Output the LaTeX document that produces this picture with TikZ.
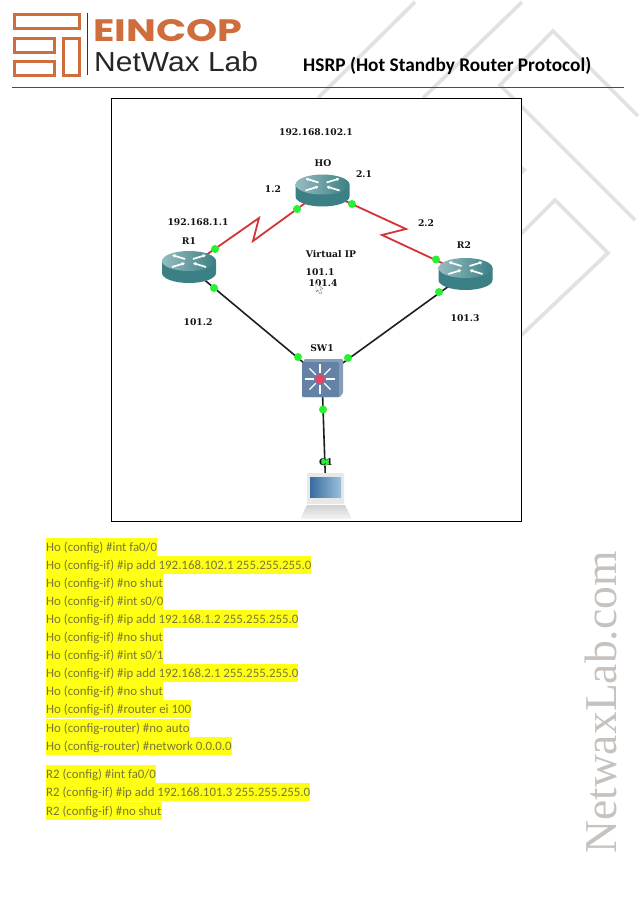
\documentclass[tikz,border=0pt]{standalone}
\usepackage{fontspec}
\usetikzlibrary{arrows.meta}
\newfontfamily\calfont{Carlito}
\newfontfamily\logofont{Poppins}
\newfontfamily\netfont{Liberation Sans}
\newfontfamily\labfont{DejaVu Serif}
\newfontfamily\wmfont{Liberation Serif}
\definecolor{logoorange}{RGB}{207,110,60}
\definecolor{decogrey}{RGB}{226,226,226}
\definecolor{teal1}{RGB}{58,128,132}
\definecolor{teal2}{RGB}{150,188,192}
\definecolor{serialred}{RGB}{215,50,55}
\definecolor{portgreen}{RGB}{40,240,50}
\definecolor{swblue}{RGB}{100,130,165}
\definecolor{swblue2}{RGB}{135,158,185}
\definecolor{swred}{RGB}{225,70,100}
\definecolor{scrdark}{RGB}{55,108,160}
\definecolor{scrlight}{RGB}{155,192,218}
\definecolor{listtext}{RGB}{122,120,55}
\definecolor{hl}{RGB}{255,255,20}
\definecolor{wmgrey}{RGB}{200,194,190}
\tikzset{
  deco/.style={draw=decogrey,line width=3.8pt,line join=miter},
  logobar/.style={draw=logoorange,line width=3pt},
  lab/.style={font=\labfont\bfseries\fontsize{9.2}{10}\selectfont,text=black!92,inner sep=0pt},
  cmd/.style={font=\calfont\fontsize{12.85}{14}\selectfont,text=listtext,fill=hl,anchor=west,
    inner xsep=0pt,inner ysep=0pt,text height=13.5pt,text depth=4.5pt},
  devbox/.style={inner sep=0pt,minimum width=#1},
  portdot/.style={circle,fill=portgreen,inner sep=0pt,minimum size=8pt},
  seriallink/.style={draw=serialred,line width=1.8pt},
  lanlink/.style={draw=black!88,line width=1.6pt},
  router/.pic={
    \fill[teal1] (-27,-6) -- (-27,6) arc (180:0:27 and 10) -- (27,-6) -- cycle;
    \shade[left color=teal2,right color=teal1] (0,-6) ellipse (27 and 10);
    \foreach \sx in {-1,1}{
      \draw[white,line width=1.7pt,-{Latex[length=3pt,width=4pt]}] (\sx*4,-8) -- (\sx*17,-12);
      \draw[white,line width=1.7pt,{Latex[length=3pt,width=4pt]}-] (\sx*4,-4) -- (\sx*17,0);
    }
  },
  swpic/.pic={
    \fill[swblue2,rounded corners=1pt] (-18,-19) -- (21,-19) -- (21,15) -- (18,19) -- (-18,19) -- cycle;
    \fill[swblue,rounded corners=1pt] (-20,-16) -- (17,-16) -- (17,19) -- (-20,19) -- cycle;
    \begin{scope}[shift={(-2,1)}]
      \foreach \a in {0,45,...,315}
        \draw[white,line width=1.3pt] (\a:6) -- (\a:15);
      \fill[swred] (0,0) circle (5);
    \end{scope}
  },
  laptop/.pic={
    \shade[top color=black!18,bottom color=black!4] (-26,23) -- (26,23) -- (19,9) -- (-19,9) -- cycle;
    \fill[black!9,rounded corners=1pt] (-19,-23) rectangle (18,8);
    \shade[left color=scrdark,right color=scrlight] (-16,-19) rectangle (15,1);
  },
}
\begin{document}
\begin{tikzpicture}[x=1pt,y=-1pt]
  \useasboundingbox (0,0) rectangle (638,903);
  % grey lines behind the page
  \draw[deco] (415,2) -- (318,98);
  \draw[deco] (522,2) -- (423,98);
  \draw[deco] (638,116) -- (553,31) -- (500,85) -- (635,220);
  \draw[deco] (510,245) -- (555,200) -- (608,253) -- (510,346);
  \draw[deco] (514,162) -- (524,170) -- (514,180);
  % logo
  \draw[logobar] (14,14) rectangle (79,28);
  \draw[logobar] (14,38) rectangle (54,52);
  \draw[logobar] (14,61) rectangle (54,75);
  \draw[logobar] (63,38) rectangle (79,75);
  \draw[black!80,line width=0.9pt] (87,13) -- (87,75);
  \node[anchor=base west,inner sep=0pt,xscale=1.28,text=logoorange,font=\logofont\bfseries\fontsize{31}{34}\selectfont] (eincop) at (93,41) {EINCOP};
  \node[anchor=base west,inner sep=0pt,xscale=1.09,text=black!85,font=\netfont\fontsize{27.5}{30}\selectfont] (netwax) at (94,71) {NetWax Lab};
  \node[anchor=base west,inner sep=0pt,text=black,font=\calfont\bfseries\fontsize{19.3}{22}\selectfont] (title) at (303,71) {HSRP (Hot Standby Router Protocol)};
  \draw[black!70,line width=0.7pt] (12,87.5) -- (624,87.5);
  % frame
  \draw[black,fill=white,line width=0.9pt] (111,98) rectangle (521,521);
  % devices
  \node[devbox=30pt,minimum height=16pt] (R1) at (189,267) {};
  \node[devbox=30pt,minimum height=16pt] (HO) at (322.5,190.5) {};
  \node[devbox=30pt,minimum height=16pt] (R2) at (465.5,274) {};
  \node[devbox=30pt,minimum height=28pt] (SW1) at (322,378) {};
  \node[devbox=30pt,minimum height=40pt] (C1) at (326,496) {};
  % kinks of the serial links
  \coordinate (kA) at (259,218);
  \coordinate (kB) at (253,241);
  \coordinate (kC) at (406,229);
  \coordinate (kD) at (382,235);
  \draw[seriallink] (R1) -- (kA) -- (kB) -- (HO);
  \draw[seriallink] (HO) -- (kC) -- (kD) -- (R2);
  \draw[lanlink] (R1) -- (SW1);
  \draw[lanlink] (R2) -- (SW1);
  \draw[lanlink] (SW1) -- (C1);
  \pic at (R1) {router};
  \pic at (HO) {router};
  \pic at (R2) {router};
  \pic at (SW1) {swpic};
  \pic at (C1) {laptop};
  % ports
  \node[portdot] (p1) at (215,249) {};
  \node[portdot] (p2) at (214,288) {};
  \node[portdot] (p3) at (297,209) {};
  \node[portdot] (p4) at (352,204) {};
  \node[portdot] (p5) at (436,259.5) {};
  \node[portdot] (p6) at (439,292) {};
  \node[portdot] (p7) at (298,357) {};
  \node[portdot] (p8) at (348,358) {};
  \node[portdot] (p9) at (323,409.5) {};
  \node[portdot] (p10) at (325,462) {};
  % labels
  \node[lab] (lHOip) at (316,132) {192.168.102.1};
  \node[lab] (lHO) at (323,163) {HO};
  \node[lab] (l21) at (364,174) {2.1};
  \node[lab] (l12) at (273,189) {1.2};
  \node[lab] (lR1ip) at (198,222) {192.168.1.1};
  \node[lab] (lR1) at (189,241) {R1};
  \node[lab] (l22) at (426,223) {2.2};
  \node[lab] (lR2) at (464,245) {R2};
  \node[lab] (lvip) at (331,254) {Virtual IP};
  \node[lab] (l1011) at (320,272) {101.1};
  \node[lab] (l1014) at (323,283) {101.4};
  \node[lab] (l1012) at (198,322) {101.2};
  \node[lab] (l1013) at (465,318) {101.3};
  \node[lab] (lSW1) at (322,348) {SW1};
  \node[lab] (lC1) at (326,462) {C1};
  % mouse cursor
  \draw[black!55,fill=white,line width=0.4pt] (316,283) -- (316,292) -- (318,290) -- (320,294) -- (322,293) -- (320,289) -- (323,289) -- cycle;
  % commands
  \node[cmd] (c1) at (46,547) {Ho (config) \#int fa0/0};
  \node[cmd] (c2) at (46,565) {Ho (config-if) \#ip add 192.168.102.1 255.255.255.0};
  \node[cmd] (c3) at (46,583) {Ho (config-if) \#no shut};
  \node[cmd] (c4) at (46,601) {Ho (config-if) \#int s0/0};
  \node[cmd] (c5) at (46,619) {Ho (config-if) \#ip add 192.168.1.2 255.255.255.0};
  \node[cmd] (c6) at (46,637) {Ho (config-if) \#no shut};
  \node[cmd] (c7) at (46,655) {Ho (config-if) \#int s0/1};
  \node[cmd] (c8) at (46,673) {Ho (config-if) \#ip add 192.168.2.1 255.255.255.0};
  \node[cmd] (c9) at (46,691) {Ho (config-if) \#no shut};
  \node[cmd] (c10) at (46,709) {Ho (config-if) \#router ei 100};
  \node[cmd] (c11) at (46,728) {Ho (config-router) \#no auto};
  \node[cmd] (c12) at (46,746) {Ho (config-router) \#network 0.0.0.0};
  \node[cmd] (c13) at (46,774) {R2 (config) \#int fa0/0};
  \node[cmd] (c14) at (46,792) {R2 (config-if) \#ip add 192.168.101.3 255.255.255.0};
  \node[cmd] (c15) at (46,811) {R2 (config-if) \#no shut};
  % side text
  \node[anchor=base west,rotate=90,inner sep=0pt,text=wmgrey,font=\wmfont\fontsize{45.6}{50}\selectfont] (wm) at (616,854) {NetwaxLab.com};
\end{tikzpicture}
\end{document}
